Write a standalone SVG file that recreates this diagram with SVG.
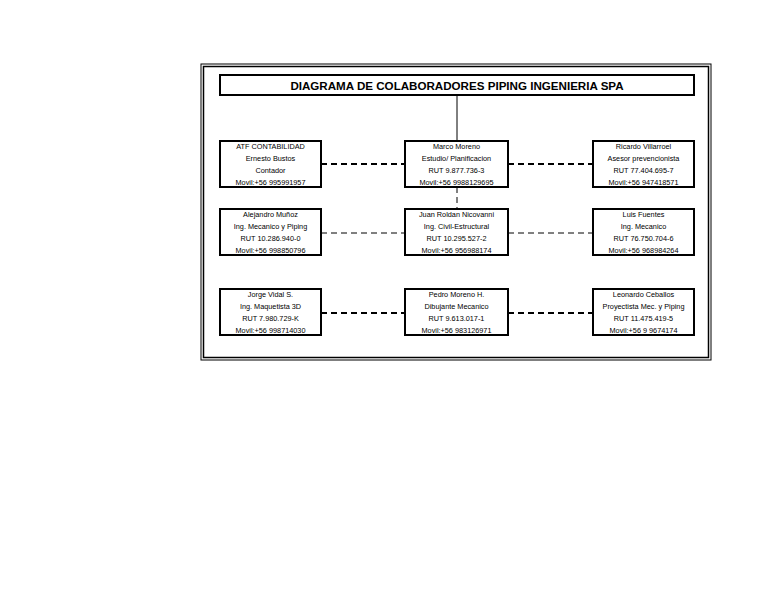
<svg xmlns="http://www.w3.org/2000/svg" width="768" height="594" viewBox="0 0 768 594">
<style>
.b{fill:#fff;stroke:#000;stroke-width:2}
text{font-family:"Liberation Sans",Arial,sans-serif;font-size:7.3px;text-anchor:middle;fill:#000}
.t{font-size:11.6px;font-weight:bold}
.d1{stroke:#000;stroke-width:2;stroke-dasharray:6,4;fill:none}
.d2{stroke:#000;stroke-width:1;stroke-dasharray:6,4;fill:none}
</style>
<rect width="768" height="594" fill="#fff"/>
<rect x="201" y="64" width="510" height="296" fill="none" stroke="#000" stroke-width="1"/>
<rect x="203.5" y="66.5" width="505" height="291" fill="none" stroke="#000" stroke-width="1.5"/>
<g id="title"><rect class="b" x="220" y="75" width="474" height="20"/><text class="t" x="457" y="89.5">DIAGRAMA DE COLABORADORES PIPING INGENIERIA SPA</text></g>
<g id="connectors">
<line x1="457" y1="95" x2="457" y2="141" stroke="#000" stroke-width="1"/>
<line class="d2" x1="457" y1="187" x2="457" y2="209"/>
<line class="d1" x1="321" y1="164" x2="405" y2="164"/>
<line class="d1" x1="508" y1="164" x2="593" y2="164"/>
<line class="d2" x1="321" y1="233" x2="405" y2="233"/>
<line class="d2" x1="508" y1="233" x2="593" y2="233"/>
<line class="d1" x1="321" y1="313" x2="405" y2="313"/>
<line class="d1" x1="508" y1="313" x2="593" y2="313"/>
</g>
<g id="n1"><rect class="b" x="220" y="141" width="101" height="46"/><text x="270.5" y="149">ATF CONTABILIDAD</text><text x="270.5" y="161">Ernesto Bustos</text><text x="270.5" y="173">Contador</text><text x="270.5" y="185">Movil:+56 995991957</text></g>
<g id="n2"><rect class="b" x="405" y="141" width="103" height="46"/><text x="456.5" y="149">Marco Moreno</text><text x="456.5" y="161">Estudio/ Planificacion</text><text x="456.5" y="173">RUT 9.877.736-3</text><text x="456.5" y="185">Movil:+56 9988129695</text></g>
<g id="n3"><rect class="b" x="593" y="141" width="101" height="46"/><text x="643.5" y="149">Ricardo Villarroel</text><text x="643.5" y="161">Asesor prevencionista</text><text x="643.5" y="173">RUT 77.404.695-7</text><text x="643.5" y="185">Movil:+56 947418571</text></g>
<g id="n4"><rect class="b" x="220" y="209" width="101" height="46"/><text x="270.5" y="217">Alejandro Muñoz</text><text x="270.5" y="229">Ing. Mecanico y Piping</text><text x="270.5" y="241">RUT 10.286.940-0</text><text x="270.5" y="253">Movil:+56 998850796</text></g>
<g id="n5"><rect class="b" x="405" y="209" width="103" height="46"/><text x="456.5" y="217">Juan Roldan Nicovanni</text><text x="456.5" y="229">Ing. Civil-Estructural</text><text x="456.5" y="241">RUT 10.295.527-2</text><text x="456.5" y="253">Movil:+56 956988174</text></g>
<g id="n6"><rect class="b" x="593" y="209" width="101" height="46"/><text x="643.5" y="217">Luis Fuentes</text><text x="643.5" y="229">Ing. Mecanico</text><text x="643.5" y="241">RUT 76.750.704-6</text><text x="643.5" y="253">Movil:+56 968984264</text></g>
<g id="n7"><rect class="b" x="220" y="289" width="101" height="46"/><text x="270.5" y="297">Jorge Vidal S.</text><text x="270.5" y="309">Ing. Maquetista 3D</text><text x="270.5" y="321">RUT 7.980.729-K</text><text x="270.5" y="333">Movil:+56 998714030</text></g>
<g id="n8"><rect class="b" x="405" y="289" width="103" height="46"/><text x="456.5" y="297">Pedro Moreno H.</text><text x="456.5" y="309">Dibujante Mecanico</text><text x="456.5" y="321">RUT 9.613.017-1</text><text x="456.5" y="333">Movil:+56 983126971</text></g>
<g id="n9"><rect class="b" x="593" y="289" width="101" height="46"/><text x="643.5" y="297">Leonardo Ceballos</text><text x="643.5" y="309">Proyectista Mec. y Piping</text><text x="643.5" y="321">RUT 11.475.419-5</text><text x="643.5" y="333">Movil:+56 9 9674174</text></g>
</svg>
